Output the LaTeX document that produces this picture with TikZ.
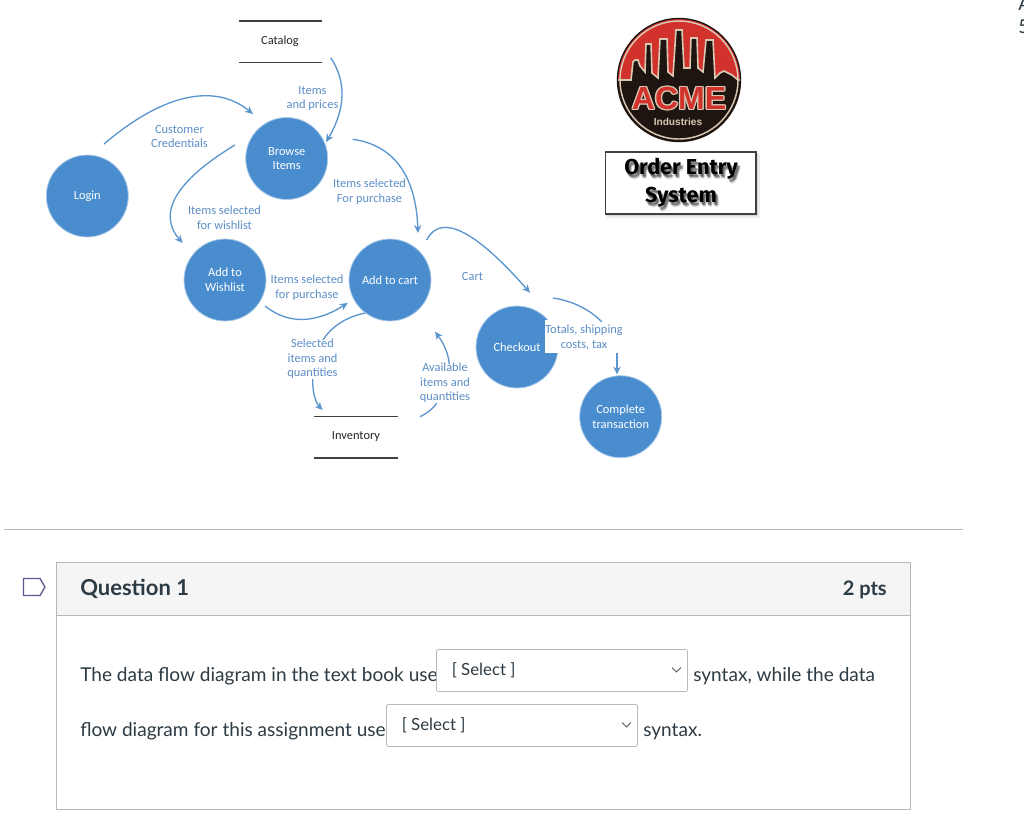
\documentclass[tikz,border=0pt]{standalone}
\usepackage{fontspec}
\setmainfont{Carlito}
\newfontfamily\webfont{Lato}
\newfontfamily\acmefont{Liberation Sans}
\newfontfamily\oesfont{Fira Sans}
\usetikzlibrary{arrows.meta}
\definecolor{dfdblue}{HTML}{4A8DCF}
\definecolor{flowblue}{HTML}{5B96CF}
\definecolor{labelblue}{HTML}{5C8EC6}
\definecolor{webtext}{HTML}{2D3B45}
\definecolor{webline}{HTML}{B4B9BC}
\definecolor{acmered}{HTML}{D2322C}
\definecolor{acmeblack}{HTML}{1E1410}
\definecolor{acmebeige}{HTML}{D8C8B4}
\newcommand{\lblsize}{\fontsize{9.3pt}{11pt}\selectfont}
\tikzset{
  proc/.style={circle,fill=dfdblue,draw=dfdblue!45,line width=0.6pt,minimum size=61.5pt,inner sep=0pt,align=center,text=white,font=\lblsize},
  lbl/.style={align=center,text=labelblue,font=\lblsize,inner sep=0pt},
  store/.style={font=\lblsize,text=black!85,inner sep=0pt},
  storeline/.style={draw=black!75,line width=0.8pt},
  flow/.style={draw=flowblue,line width=1pt,-{Stealth[length=6pt,width=5.5pt]}},
  flowplain/.style={draw=flowblue,line width=1pt},
  webt/.style={font=\webfont\fontsize{14.3pt}{17pt}\selectfont,text=webtext,anchor=base west,inner sep=0pt},
  selbox/.style={draw=webline,fill=white,line width=0.6pt,rounded corners=1.5pt},
  selt/.style={font=\webfont\fontsize{12.6pt}{15pt}\selectfont,text=webtext,anchor=base west,inner sep=0pt},
}
\begin{document}
\begin{tikzpicture}[x=0.75pt,y=-0.75pt]
\useasboundingbox (0,0) rectangle (1024,819);
\clip (0,0) rectangle (1024,819);
\fill[white] (0,0) rectangle (1024,819);

% stores
\draw[storeline] (239,21) -- (322,21);
\draw[storeline] (239,62.5) -- (322,62.5);
\node[store] (catalog) at (280,41) {Catalog};
\draw[storeline] (314,416.7) -- (398,416.7);
\draw[storeline] (314,458) -- (398,458);
\node[store] (inventory) at (356,437) {Inventory};

% processes
\node[proc] (login) at (87.3,196) {Login};
\node[proc] (browse) at (286.7,158.5) {Browse\\Items};
\node[proc] (wish) at (225,280) {Add to\\Wishlist};
\node[proc] (cart) at (390,280) {Add to cart};
\node[proc] (checkout) at (517,347) {};
\node[proc] (complete) at (620.7,416.7) {Complete\\transaction};

% white label patch over checkout
\fill[white] (545,320) rectangle (625,353);
\node[lbl,text=white] at (517,347) {Checkout};

% endpoints
\coordinate (a1) at (104,144);   \coordinate (a2) at (253,114);
\coordinate (b1) at (330.7,57.7);\coordinate (b2) at (326,142);
\coordinate (c1) at (352.7,139.3);\coordinate (c2) at (418,233);
\coordinate (d1) at (235,145);   \coordinate (d2) at (182.7,243);
\coordinate (e1) at (265,306);   \coordinate (e2) at (347.7,303);
\coordinate (f1) at (426.7,240); \coordinate (f2) at (530,292.7);
\coordinate (g1) at (553,298);   \coordinate (g2) at (602,322);
\coordinate (h1) at (617,353);   \coordinate (h2) at (617,374.5);
\coordinate (i1) at (365,313);   \coordinate (i2) at (323,340);
\coordinate (j1) at (312.7,379); \coordinate (j2) at (322.7,410);
\coordinate (k1) at (420,416.7); \coordinate (k2) at (436.7,403);
\coordinate (l1) at (449.3,364); \coordinate (l2) at (435,331.7);

% connectors
\draw[flow] (a1) .. controls (169,88.7) and (218.7,85.7) .. (a2);
\draw[flow] (b1) .. controls (346.9,81.6) and (345.3,109.7) .. (b2);
\draw[flow] (c1) .. controls (394,145) and (416,176) .. (c2);
\draw[flow] (d1) .. controls (174.7,181.3) and (157.2,214) .. (d2);
\draw[flow] (e1) .. controls (288,324.3) and (315,323.7) .. (e2);
\draw[flow] (f1) .. controls (440.6,212.7) and (475,230) .. (f2);
\draw[flowplain] (g1) .. controls (572.7,301) and (589,309) .. (g2);
\draw[flow] (h1) -- (h2);
\draw[flowplain] (i1) .. controls (345.7,317.3) and (331.7,326.3) .. (i2);
\draw[flow] (j1) .. controls (312.4,392.3) and (315.7,402.9) .. (j2);
\draw[flowplain] (k1) .. controls (427,413) and (432,410) .. (k2);
\draw[flow] (l1) .. controls (448.3,353.3) and (443.6,343.2) .. (l2);

% labels
\node[lbl] (t1) at (179.5,136.5) {Customer\\Credentials};
\node[lbl] (t2) at (312.5,98.5) {Items\\and prices};
\node[lbl] (t3) at (369.5,191.5) {Items selected\\For purchase};
\node[lbl] (t4) at (224.5,217.5) {Items selected\\for wishlist};
\node[lbl] (t5) at (307,288) {Items selected\\for purchase};
\node[lbl] (t6) at (312.5,359) {Selected\\items and\\quantities};
\node[lbl] (t7) at (445,383) {Available\\items and\\quantities};
\node[lbl] (t8) at (472.5,277) {Cart};
\node[lbl] (t9) at (584,337.5) {Totals, shipping\\costs, tax};

% logo
\begin{scope}
  \clip (679,80) circle (61.5);
  \fill[acmered] (617,18) rectangle (741,142);
  \fill[acmeblack] (617,80) rectangle (741,142);
  \path[fill=acmeblack,draw=acmebeige,line width=1.2pt]
    (617,80) -- (631,80) -- (633,62) -- (635,60) -- (638,60) -- (640,66)
    -- (645,72) -- (646,44) -- (651,44) -- (652,73) -- (658,78) -- (660,39) -- (667,39) -- (668,72)
    -- (673,76) -- (676,30) -- (682,30) -- (684,68)
    -- (690,68) -- (691,38) -- (697,38) -- (698,68) -- (703,72)
    -- (706,40) -- (713,40) -- (715,78) -- (720,73) -- (724,71) -- (732,75) -- (738,80) -- (745,80)
    -- (745,150) -- (617,150) -- cycle;
\end{scope}
\draw[acmeblack,line width=1pt] (679,80) circle (61.5);
\draw[acmebeige,line width=1.1pt] (679,80) circle (59);
\foreach \dx/\dy in {-1.3/0,1.3/0,0/-1.3,0/1.3,-1/-1,1/-1,-1/1,1/1}{
  \node[font=\acmefont\bfseries\fontsize{24pt}{26pt}\selectfont,text=acmebeige,inner sep=0pt] at (679+\dx,98.5+\dy) {ACME};
}
\node[font=\acmefont\bfseries\fontsize{24pt}{26pt}\selectfont,text=acmered,inner sep=0pt] (acme) at (679,98.5) {ACME};
\node[font=\acmefont\bfseries\fontsize{7.6pt}{9pt}\selectfont,text=acmebeige,inner sep=0pt] (ind) at (678,122) {Industries};

% title box
\fill[black,opacity=0.08] (607,154) rectangle (760,218);
\fill[black,opacity=0.08] (606,153) rectangle (758,216);
\draw[fill=white,draw=black!75,line width=0.9pt] (605.5,152) rectangle (756,214);
\foreach \dx/\dy/\op in {1/2/0.22,2/3/0.22,3/3/0.16,2/4/0.16,3/5/0.1}{
  \node[font=\oesfont\bfseries\fontsize{16.2pt}{20.6pt}\selectfont,text=black,opacity=\op,align=center,inner sep=0pt] at (681+\dx,182.5+\dy) {Order Entry\\System};
}
\node[font=\oesfont\bfseries\fontsize{16.2pt}{20.6pt}\selectfont,text=black,align=center,inner sep=0pt] (oes) at (681,182.5) {Order Entry\\System};

% clipped page edge text
\node[webt] (edgeA) at (1018,10) {A};
\node[webt] (edge5) at (1018,33) {5};

% rule
\draw[webline,line width=0.8pt] (4,529.5) -- (963,529.5);

% flag
\draw[draw=black!35!blue!30!gray,line width=1pt,line join=round,fill=white] (23.5,578.5) -- (40,578.5) -- (45,587) -- (40,595.5) -- (23.5,595.5) -- cycle;

% question box
\fill[black!4] (56.5,562.5) rectangle (910.5,615.5);
\draw[webline,line width=0.8pt] (56.5,562.5) rectangle (910.5,809.5);
\draw[webline,line width=0.8pt] (56.5,615.5) -- (910.5,615.5);
\node[font=\webfont\bfseries\fontsize{16.5pt}{20pt}\selectfont,text=webtext,anchor=base west,inner sep=0pt] (q) at (80,595) {Question 1};
\node[font=\webfont\bfseries\fontsize{15pt}{18pt}\selectfont,text=webtext,anchor=base east,inner sep=0pt] (pts) at (887,595) {2 pts};

% body
\node[webt] (l1a) at (80,681) {The data flow diagram in the text book uses};
\draw[selbox] (436.5,649.5) rectangle (687.5,691.5);
\node[selt] (s1) at (451.5,675) {[ Select ]};
\draw[black!65,line width=0.7pt] (672,667.5) -- (676.5,672) -- (681,667.5);
\node[webt] (l1b) at (693,681) {syntax, while the data};
\node[webt] (l2a) at (80,736) {flow diagram for this assignment uses};
\draw[selbox] (386.5,704.5) rectangle (637.5,746.5);
\node[selt] (s2) at (401.5,730) {[ Select ]};
\draw[black!65,line width=0.7pt] (622,722.5) -- (626.5,727) -- (631,722.5);
\node[webt] (l2b) at (643,736) {syntax.};
\end{tikzpicture}
\end{document}
